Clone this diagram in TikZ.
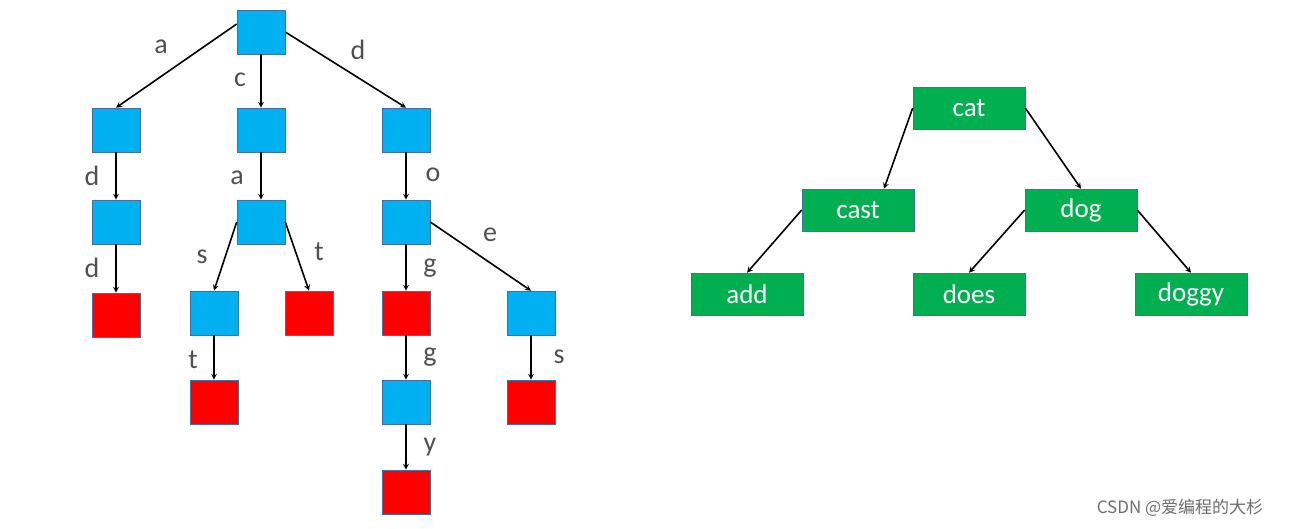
\documentclass[tikz,border=0pt]{standalone}
\usepackage{fontspec}
\setmainfont{Carlito}
\newfontfamily\cjk{Noto Sans CJK SC}
\begin{document}
\begin{tikzpicture}[x=1pt,y=-1pt,
 bb/.style={draw={rgb,255:red,65;green,113;blue,156},line width=0.6pt,fill={rgb,255:red,0;green,176;blue,240},minimum width=48pt,minimum height=44pt,inner sep=0pt},
 rb/.style={bb,fill=red},
 gb/.style={draw={rgb,255:red,65;green,113;blue,156},line width=0.6pt,fill={rgb,255:red,0;green,176;blue,80},minimum width=112pt,minimum height=42pt,inner sep=0pt,text=white,font=\fontsize{27}{30}\selectfont},
 lb/.style={text={rgb,255:red,80;green,80;blue,80},font=\fontsize{28}{30}\selectfont,inner sep=0pt},
 ar/.style={->,>=stealth,line width=1.6pt}]
\useasboundingbox (0,0) rectangle (1290,528);
% left tree
\node[bb] (r) at (261,32) {};
\node[bb] (a) at (116,130) {};
\node[bb] (c) at (261,130) {};
\node[bb] (d) at (406,130) {};
\node[bb] (ad) at (116,222) {};
\node[rb] (add) at (116,315) {};
\node[bb] (ca) at (261,222) {};
\node[bb] (cas) at (214,313) {};
\node[rb] (cat) at (309,313) {};
\node[rb] (cast) at (214,402) {};
\node[bb] (do) at (406,222) {};
\node[rb] (dog) at (406,313) {};
\node[bb] (doe) at (531,313) {};
\node[bb] (dogg) at (406,402) {};
\node[rb] (doggy) at (406,492) {};
\node[rb] (does) at (531,402) {};
\draw[ar] ([yshift=8pt]r.west) -- (a.north);
\draw[ar] (r) -- (c);
\draw[ar] (r.east) -- (d.north);
\draw[ar] (a) -- (ad);
\draw[ar] (ad) -- (add);
\draw[ar] (c) -- (ca);
\draw[ar] (ca.west) -- (cas.north);
\draw[ar] (ca.east) -- (cat.north);
\draw[ar] (cas) -- (cast);
\draw[ar] (d) -- (do);
\draw[ar] (do) -- (dog);
\draw[ar] (do.east) -- (doe.north);
\draw[ar] (dog) -- (dogg);
\draw[ar] (dogg) -- (doggy);
\draw[ar] (doe) -- (does);
\node[lb] (la) at (161,47) {a};
\node[lb] (lc) at (240,80) {c};
\node[lb] (ld) at (358,50) {d};
\node[lb] (ld2) at (92,176) {d};
\node[lb] (ld3) at (92,268) {d};
\node[lb] (la2) at (237,178) {a};
\node[lb] (lo) at (433,175) {o};
\node[lb] (ls) at (202,257) {s};
\node[lb] (lt) at (319,252) {t};
\node[lb] (le) at (490,235) {e};
\node[lb] (lg) at (430,268) {g};
\node[lb] (lt2) at (193,360) {t};
\node[lb] (lg2) at (430,357) {g};
\node[lb] (ls2) at (559,357) {s};
\node[lb] (ly) at (430,447) {y};
% right tree
\node[gb] (Ncat) at (969,108) {cat};
\node[gb] (Ncast) at (858,210) {cast};
\node[gb] (Ndog) at (1081,210) {dog};
\node[gb] (Nadd) at (747,294) {add};
\node[gb] (Ndoes) at (969,294) {does};
\node[gb] (Ndoggy) at (1191,294) {doggy};
\draw[ar] (Ncat.west) -- ([xshift=26pt]Ncast.north);
\draw[ar] (Ncat.east) -- (Ndog.north);
\draw[ar] (Ncast.west) -- (Nadd.north);
\draw[ar] (Ndog.west) -- (Ndoes.north);
\draw[ar] (Ndog.east) -- (Ndoggy.north);
\node[text={rgb,255:red,110;green,110;blue,110},font=\fontsize{17}{20}\selectfont\cjk] (wm) at (1180,508) {CSDN @爱编程的大杉};
\end{tikzpicture}
\end{document}
